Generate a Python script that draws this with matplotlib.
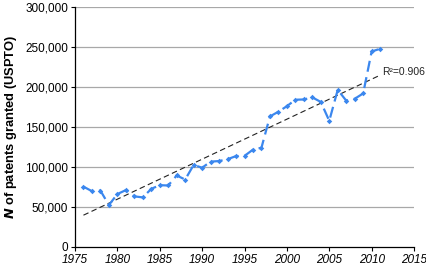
import matplotlib
matplotlib.use("Agg")
import matplotlib.pyplot as plt
import numpy as np

plt.rcParams['font.family'] = ['Liberation Sans', 'DejaVu Sans']

years = list(range(1976, 2012))
patents = [75388, 69781, 70514, 52413, 66170, 71064, 63276, 61982, 72650, 77245,
           76862, 89385, 84272, 102533, 99077, 106696, 107394, 109746, 113587, 113834,
           121696, 124069, 163142, 169094, 175980, 184057, 184375, 187012, 181299, 157718,
           196405, 182930, 185224, 191927, 244341, 247713]
r2_label = "R\u00b2=0.906"
xticks = [1975, 1980, 1985, 1990, 1995, 2000, 2005, 2010, 2015]
yticks = [0, 50000, 100000, 150000, 200000, 250000, 300000]

fig = plt.figure(figsize=(4.27, 2.68), dpi=100)
ax = fig.add_axes([0.1756, 0.0784, 0.794, 0.8956])

for y in yticks[1:]:
    ax.axhline(y, color='#a8a8a8', lw=0.9, zorder=1)

x = np.array(years)
yv = np.array(patents)
coef = np.polyfit(x, yv, 1)
ax.plot(x, np.polyval(coef, x), color='#222222', lw=0.8, ls=(0, (5, 3)), zorder=2)

ax.plot(x, yv, color='#3b87ee', lw=1.6, ls=(0, (5, 2.5)), marker='D', ms=2.8,
        markeredgewidth=0, zorder=3)

ax.text(2011.2, np.polyval(coef, 2011) + 4000, r2_label, fontsize=7.5, ha='left',
        va='center', color='#222222', clip_on=False)

ax.set_xlim(1975, 2015)
ax.set_ylim(0, 300000)
ax.set_xticks(xticks)
ax.set_yticks(yticks)
ax.set_yticklabels([f"{v:,}" for v in yticks], fontsize=8.5)
ax.set_xticklabels([str(v) for v in xticks], fontsize=8.5, style='italic')
ax.spines['top'].set_visible(False)
ax.spines['right'].set_visible(False)
ax.spines['left'].set_linewidth(0.9)
ax.spines['bottom'].set_linewidth(0.9)
ax.tick_params(axis='both', length=3, width=0.8, pad=2)
ax.set_ylabel(r"$\bfit{N}$ of patents granted (USPTO)", fontsize=9.3, fontweight='bold', labelpad=4)

fig.savefig("out.png", dpi=100)
